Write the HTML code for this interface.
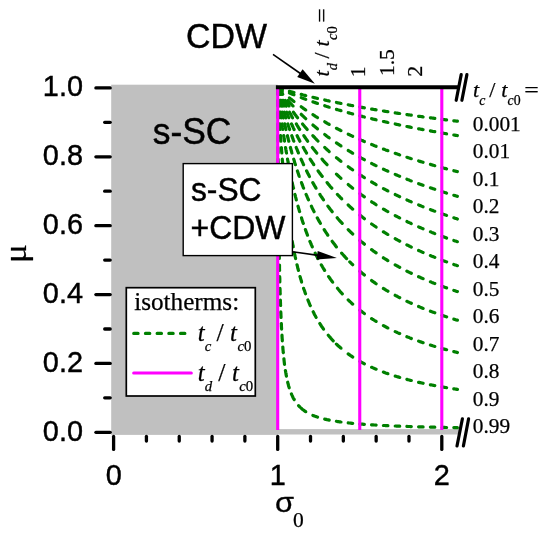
<!DOCTYPE html>
<html><head><meta charset="utf-8"><title>Phase diagram</title>
<style>html,body{margin:0;padding:0;background:#fff}svg{display:block}.sa{font-family:"Liberation Sans", sans-serif;fill:#000}.se{font-family:"Liberation Serif", serif;fill:#000;stroke:#000;stroke-width:0.25px}.it{font-style:italic}</style>
</head><body>
<svg width="550" height="537" viewBox="0 0 550 537">
<rect width="550" height="537" fill="#fff"/>
<rect x="111.2" y="84.7" width="166.50" height="350.20" fill="#c0c0c0"/>
<rect x="276.70" y="429.1" width="182.50" height="5.4" fill="#c0c0c0"/>
<path d="M277.7 87.9 L277.7 87.9 L277.8 87.9 L278.0 88.0 L278.6 88.2 L279.9 88.6 L282.3 89.3M289.4 91.3 L290.1 91.5 L290.8 91.7 L291.6 91.9 L292.3 92.1 L293.1 92.3 L294.0 92.6 L294.0 92.6M301.2 94.4 L301.9 94.6 L302.6 94.8 L303.4 95.0 L304.1 95.2 L304.9 95.4 L305.7 95.6 L305.8 95.6M312.9 97.3 L313.7 97.5 L314.4 97.7 L315.1 97.8 L315.9 98.0 L316.6 98.2 L317.4 98.4 L317.5 98.4M324.7 100.0 L325.4 100.2 L326.2 100.3 L326.9 100.5 L327.7 100.7 L328.5 100.8 L329.2 101.0M336.4 102.5 L337.2 102.7 L337.9 102.8 L338.7 103.0 L339.4 103.1 L340.2 103.3 L340.9 103.4 L341.0 103.4M348.2 104.8 L348.9 105.0 L349.6 105.1 L350.3 105.2 L351.1 105.4 L351.8 105.5 L352.5 105.7 L352.7 105.7M359.9 107.0 L360.7 107.2 L361.4 107.3 L362.2 107.4 L362.9 107.6 L363.7 107.7 L364.4 107.8M371.6 109.1 L372.4 109.2 L373.1 109.3 L373.9 109.5 L374.6 109.6 L375.4 109.7 L376.1 109.8M383.4 111.0 L384.2 111.1 L384.9 111.3 L385.6 111.4 L386.4 111.5 L387.1 111.6 L387.8 111.7 L387.9 111.7M395.2 112.9 L395.9 113.0 L396.6 113.1 L397.3 113.2 L398.0 113.3 L398.7 113.4 L399.4 113.5 L399.7 113.5M406.9 114.6 L407.6 114.7 L408.4 114.8 L409.2 114.9 L409.9 115.0 L410.7 115.1 L411.3 115.2M418.6 116.3 L419.3 116.4 L420.0 116.4 L420.7 116.5 L421.4 116.6 L422.1 116.7 L422.8 116.8 L423.1 116.9M430.4 117.8 L431.2 117.9 L431.9 118.0 L432.7 118.1 L433.4 118.2 L434.2 118.3 L434.8 118.4M442.1 119.3 L442.8 119.4 L443.4 119.5 L444.1 119.6 L444.8 119.7 L445.5 119.8 L446.2 119.8 L446.6 119.9M453.8 120.8 L454.4 120.9 L455.0 120.9 L455.6 121.0 L456.2 121.1 L456.8 121.1 L457.4 121.2" fill="none" stroke="#008000" stroke-width="3.2" stroke-linecap="round" stroke-linejoin="round"/>
<path d="M277.7 87.9 L277.7 87.9 L277.8 87.9 L278.0 88.0 L278.6 88.3 L279.9 88.9 L282.3 90.0M289.4 93.0 L290.1 93.3 L290.8 93.6 L291.6 93.9 L292.3 94.2 L293.1 94.5 L294.0 94.8 L294.0 94.8M301.2 97.6 L301.9 97.9 L302.6 98.2 L303.4 98.4 L304.1 98.7 L304.9 99.0 L305.7 99.3 L305.8 99.3M312.9 101.9 L313.7 102.1 L314.4 102.4 L315.1 102.6 L315.9 102.9 L316.6 103.1 L317.4 103.4 L317.5 103.4M324.7 105.7 L325.4 106.0 L326.2 106.2 L326.9 106.5 L327.7 106.7 L328.5 107.0 L329.2 107.2M336.4 109.4 L337.2 109.6 L337.9 109.8 L338.7 110.0 L339.4 110.2 L340.2 110.4 L340.9 110.7 L341.0 110.7M348.2 112.7 L348.9 112.9 L349.6 113.1 L350.3 113.3 L351.1 113.5 L351.8 113.7 L352.5 113.9 L352.7 113.9M359.9 115.8 L360.7 116.0 L361.4 116.2 L362.2 116.4 L362.9 116.6 L363.7 116.8 L364.4 117.0M371.6 118.7 L372.4 118.9 L373.1 119.1 L373.9 119.3 L374.6 119.4 L375.4 119.6 L376.1 119.8M383.4 121.5 L384.2 121.6 L384.9 121.8 L385.6 122.0 L386.4 122.1 L387.1 122.3 L387.8 122.5 L387.9 122.5M395.2 124.0 L395.9 124.2 L396.6 124.3 L397.3 124.5 L398.0 124.6 L398.7 124.8 L399.4 124.9 L399.7 125.0M406.9 126.5 L407.6 126.6 L408.4 126.8 L409.2 126.9 L409.9 127.1 L410.7 127.2 L411.3 127.4M418.6 128.8 L419.3 128.9 L420.0 129.0 L420.7 129.2 L421.4 129.3 L422.1 129.4 L422.8 129.6 L423.1 129.6M430.4 130.9 L431.2 131.1 L431.9 131.2 L432.7 131.4 L433.4 131.5 L434.2 131.6 L434.8 131.7M442.1 133.0 L442.8 133.1 L443.4 133.2 L444.1 133.4 L444.8 133.5 L445.5 133.6 L446.2 133.7 L446.6 133.8M453.8 135.0 L454.4 135.1 L455.0 135.2 L455.6 135.3 L456.2 135.4 L456.8 135.5 L457.4 135.6" fill="none" stroke="#008000" stroke-width="3.2" stroke-linecap="round" stroke-linejoin="round"/>
<path d="M277.7 87.9 L277.7 87.9 L277.8 88.0 L278.0 88.2 L278.6 88.7 L279.9 89.9 L282.3 92.0M289.4 97.9 L290.1 98.5 L290.8 99.0 L291.6 99.6 L292.3 100.2 L293.1 100.9 L294.0 101.5 L294.0 101.5M301.2 106.8 L301.9 107.3 L302.6 107.8 L303.4 108.4 L304.1 108.9 L304.9 109.4 L305.7 110.0 L305.8 110.0M312.9 114.7 L313.7 115.2 L314.4 115.6 L315.1 116.1 L315.9 116.6 L316.6 117.0 L317.4 117.5 L317.5 117.6M324.7 121.8 L325.4 122.3 L326.2 122.7 L326.9 123.1 L327.7 123.6 L328.5 124.0 L329.2 124.4M336.4 128.3 L337.2 128.7 L337.9 129.1 L338.7 129.4 L339.4 129.8 L340.2 130.2 L340.9 130.6 L341.0 130.6M348.2 134.2 L348.9 134.5 L349.6 134.8 L350.3 135.2 L351.1 135.5 L351.8 135.9 L352.5 136.2 L352.7 136.3M359.9 139.5 L360.7 139.9 L361.4 140.2 L362.2 140.5 L362.9 140.8 L363.7 141.2 L364.4 141.5M371.6 144.5 L372.4 144.8 L373.1 145.1 L373.9 145.4 L374.6 145.7 L375.4 146.0 L376.1 146.3M383.4 149.1 L384.2 149.3 L384.9 149.6 L385.6 149.9 L386.4 150.2 L387.1 150.4 L387.8 150.7 L387.9 150.7M395.2 153.3 L395.9 153.6 L396.6 153.8 L397.3 154.0 L398.0 154.3 L398.7 154.5 L399.4 154.8 L399.7 154.9M406.9 157.3 L407.6 157.5 L408.4 157.8 L409.2 158.0 L409.9 158.2 L410.7 158.5 L411.3 158.7M418.6 160.9 L419.3 161.2 L420.0 161.4 L420.7 161.6 L421.4 161.8 L422.1 162.0 L422.8 162.2 L423.1 162.3M430.4 164.4 L431.2 164.6 L431.9 164.9 L432.7 165.1 L433.4 165.3 L434.2 165.5 L434.8 165.7M442.1 167.7 L442.8 167.8 L443.4 168.0 L444.1 168.2 L444.8 168.4 L445.5 168.6 L446.2 168.7 L446.6 168.9M453.8 170.7 L454.4 170.9 L455.0 171.0 L455.6 171.2 L456.2 171.3 L456.8 171.5 L457.4 171.6" fill="none" stroke="#008000" stroke-width="3.2" stroke-linecap="round" stroke-linejoin="round"/>
<path d="M277.7 87.9 L277.7 87.9M278.3 88.7 L278.7 89.1 L279.1 89.7 L279.7 90.5 L280.5 91.5 L281.5 92.8 L282.8 94.3M288.0 100.5 L288.7 101.3 L289.5 102.2 L290.3 103.1 L291.2 104.0 L292.1 105.0 L293.0 106.0 L293.1 106.0M301.2 114.3 L301.9 115.0 L302.6 115.7 L303.4 116.4 L304.1 117.1 L304.9 117.9 L305.7 118.6 L305.8 118.7M312.9 125.0 L313.7 125.7 L314.4 126.3 L315.1 126.9 L315.9 127.5 L316.6 128.1 L317.4 128.7 L317.5 128.8M324.7 134.5 L325.4 135.0 L326.2 135.6 L326.9 136.2 L327.7 136.8 L328.5 137.3 L329.2 137.9M336.4 142.9 L337.2 143.4 L337.9 143.9 L338.7 144.4 L339.4 144.9 L340.2 145.4 L340.9 145.9 L341.0 145.9M348.2 150.5 L348.9 150.9 L349.6 151.3 L350.3 151.8 L351.1 152.2 L351.8 152.6 L352.5 153.1 L352.7 153.2M359.9 157.3 L360.7 157.7 L361.4 158.1 L362.2 158.5 L362.9 158.9 L363.7 159.3 L364.4 159.7M371.6 163.5 L372.4 163.9 L373.1 164.2 L373.9 164.6 L374.6 165.0 L375.4 165.4 L376.1 165.7M383.4 169.2 L384.2 169.5 L384.9 169.9 L385.6 170.2 L386.4 170.5 L387.1 170.9 L387.8 171.2 L387.9 171.2M395.2 174.4 L395.9 174.7 L396.6 175.0 L397.3 175.3 L398.0 175.6 L398.7 175.9 L399.4 176.2 L399.7 176.3M406.9 179.2 L407.6 179.5 L408.4 179.8 L409.2 180.1 L409.9 180.4 L410.7 180.7 L411.3 180.9M418.6 183.7 L419.3 183.9 L420.0 184.2 L420.7 184.4 L421.4 184.7 L422.1 184.9 L422.8 185.2 L423.1 185.3M430.4 187.8 L431.2 188.1 L431.9 188.3 L432.7 188.6 L433.4 188.8 L434.2 189.1 L434.8 189.3M442.1 191.7 L442.8 191.9 L443.4 192.1 L444.1 192.3 L444.8 192.5 L445.5 192.7 L446.2 192.9 L446.6 193.1M453.8 195.3 L454.4 195.5 L455.0 195.6 L455.6 195.8 L456.2 196.0 L456.8 196.2 L457.4 196.3" fill="none" stroke="#008000" stroke-width="3.2" stroke-linecap="round" stroke-linejoin="round"/>
<path d="M278.2 88.7 L278.4 89.1 L278.8 89.7 L279.2 90.5 L279.8 91.5 L280.5 92.7 L281.5 94.2 L281.5 94.3M285.3 100.5 L285.9 101.3 L286.5 102.2 L287.1 103.1 L287.7 104.0 L288.3 105.0 L289.0 106.0 L289.1 106.0M293.4 112.2 L294.0 113.1 L294.7 114.0 L295.4 114.9 L296.1 115.8 L296.8 116.8 L297.6 117.8M302.5 123.9 L303.2 124.8 L304.0 125.7 L304.8 126.7 L305.6 127.6 L306.4 128.5 L307.2 129.5 L307.2 129.5M312.8 135.7 L313.6 136.5 L314.5 137.4 L315.3 138.3 L316.2 139.2 L317.0 140.1 L317.9 140.9 L318.0 141.1M324.7 147.4 L325.4 148.1 L326.2 148.8 L326.9 149.5 L327.7 150.2 L328.5 150.9 L329.2 151.6M336.4 157.7 L337.2 158.3 L337.9 158.9 L338.7 159.5 L339.4 160.1 L340.2 160.7 L340.9 161.3 L341.0 161.3M348.2 166.7 L348.9 167.2 L349.6 167.7 L350.3 168.3 L351.1 168.8 L351.8 169.3 L352.5 169.8 L352.7 169.9M359.9 174.8 L360.7 175.3 L361.4 175.7 L362.2 176.2 L362.9 176.7 L363.7 177.2 L364.4 177.6M371.6 182.0 L372.4 182.4 L373.1 182.9 L373.9 183.3 L374.6 183.7 L375.4 184.2 L376.1 184.6M383.4 188.6 L384.2 189.0 L384.9 189.3 L385.6 189.7 L386.4 190.1 L387.1 190.5 L387.8 190.9 L387.9 190.9M395.2 194.5 L395.9 194.9 L396.6 195.2 L397.3 195.5 L398.0 195.9 L398.7 196.2 L399.4 196.5 L399.7 196.7M406.9 200.0 L407.6 200.3 L408.4 200.6 L409.2 201.0 L409.9 201.3 L410.7 201.6 L411.3 201.9M418.6 204.9 L419.3 205.2 L420.0 205.5 L420.7 205.8 L421.4 206.1 L422.1 206.4 L422.8 206.7 L423.1 206.8M430.4 209.6 L431.2 209.9 L431.9 210.2 L432.7 210.4 L433.4 210.7 L434.2 211.0 L434.8 211.2M442.1 213.8 L442.8 214.1 L443.4 214.3 L444.1 214.5 L444.8 214.8 L445.5 215.0 L446.2 215.2 L446.6 215.4M453.8 217.8 L454.4 218.0 L455.0 218.2 L455.6 218.4 L456.2 218.6 L456.8 218.8 L457.4 219.0" fill="none" stroke="#008000" stroke-width="3.2" stroke-linecap="round" stroke-linejoin="round"/>
<path d="M278.1 88.7 L278.2 89.1 L278.5 89.7 L278.8 90.5 L279.3 91.5 L279.9 92.7 L280.6 94.3 L280.6 94.3M283.5 100.5 L283.9 101.3 L284.3 102.1 L284.8 103.0 L285.2 104.0 L285.7 104.9 L286.2 105.9 L286.3 106.0M289.5 112.2 L290.0 113.1 L290.5 113.9 L291.0 114.8 L291.5 115.8 L292.0 116.7 L292.6 117.7 L292.6 117.8M296.3 123.9 L296.8 124.8 L297.4 125.8 L297.9 126.7 L298.5 127.6 L299.1 128.6 L299.7 129.5M303.8 135.7 L304.4 136.6 L305.1 137.5 L305.7 138.4 L306.4 139.4 L307.0 140.3 L307.7 141.2M312.3 147.4 L313.0 148.3 L313.7 149.2 L314.5 150.1 L315.2 151.1 L315.9 152.0 L316.7 152.9 L316.8 153.0M322.0 159.1 L322.8 160.1 L323.6 161.0 L324.4 161.9 L325.3 162.8 L326.1 163.7 L327.0 164.6 L327.1 164.7M336.4 174.1 L337.2 174.8 L337.9 175.5 L338.7 176.2 L339.4 176.9 L340.2 177.6 L340.9 178.3 L341.0 178.3M348.2 184.5 L348.9 185.1 L349.6 185.7 L350.3 186.3 L351.1 186.9 L351.8 187.5 L352.5 188.1 L352.7 188.2M359.9 193.7 L360.7 194.2 L361.4 194.8 L362.2 195.3 L362.9 195.8 L363.7 196.4 L364.4 196.9M371.6 201.8 L372.4 202.3 L373.1 202.7 L373.9 203.2 L374.6 203.7 L375.4 204.2 L376.1 204.7M383.4 209.1 L384.2 209.5 L384.9 209.9 L385.6 210.3 L386.4 210.8 L387.1 211.2 L387.8 211.6 L387.9 211.6M395.2 215.6 L395.9 216.0 L396.6 216.3 L397.3 216.7 L398.0 217.1 L398.7 217.4 L399.4 217.8 L399.7 217.9M406.9 221.5 L407.6 221.9 L408.4 222.2 L409.2 222.6 L409.9 222.9 L410.7 223.3 L411.3 223.6M418.6 226.9 L419.3 227.2 L420.0 227.5 L420.7 227.8 L421.4 228.1 L422.1 228.4 L422.8 228.7 L423.1 228.8M430.4 231.8 L431.2 232.1 L431.9 232.4 L432.7 232.7 L433.4 233.0 L434.2 233.3 L434.8 233.6M442.1 236.3 L442.8 236.6 L443.4 236.8 L444.1 237.1 L444.8 237.3 L445.5 237.6 L446.2 237.8 L446.6 238.0M453.8 240.5 L454.4 240.7 L455.0 240.9 L455.6 241.1 L456.2 241.3 L456.8 241.5 L457.4 241.7" fill="none" stroke="#008000" stroke-width="3.2" stroke-linecap="round" stroke-linejoin="round"/>
<path d="M278.0 88.7 L278.1 89.1 L278.3 89.7 L278.6 90.5 L278.9 91.5 L279.3 92.7 L279.9 94.3 L279.9 94.3M282.1 100.5 L282.4 101.3 L282.7 102.1 L283.0 103.0 L283.4 104.0 L283.7 104.9 L284.1 106.0 L284.1 106.0M286.6 112.2 L286.9 113.1 L287.3 114.0 L287.7 114.9 L288.1 115.8 L288.5 116.8 L288.9 117.7M291.5 123.9 L291.9 124.8 L292.4 125.8 L292.8 126.7 L293.2 127.6 L293.7 128.6 L294.1 129.5M297.1 135.7 L297.5 136.6 L298.0 137.5 L298.5 138.5 L299.0 139.4 L299.4 140.3 L299.9 141.2M303.3 147.4 L303.8 148.3 L304.3 149.2 L304.8 150.1 L305.3 151.0 L305.9 151.9 L306.4 152.9 L306.5 153.0M310.2 159.2 L310.8 160.1 L311.4 161.0 L312.0 161.9 L312.6 162.8 L313.2 163.7 L313.8 164.6 L313.8 164.7M318.1 170.9 L318.7 171.8 L319.4 172.7 L320.0 173.6 L320.7 174.4 L321.3 175.3 L322.0 176.2 L322.2 176.4M327.1 182.6 L327.8 183.5 L328.5 184.4 L329.3 185.3 L330.0 186.2 L330.8 187.1 L331.6 188.0 L331.8 188.2M337.4 194.4 L338.1 195.1 L338.8 195.8 L339.5 196.5 L340.2 197.3 L340.9 198.0 L341.6 198.7 L341.7 198.9M348.2 205.0 L348.9 205.7 L349.6 206.3 L350.3 207.0 L351.1 207.7 L351.8 208.3 L352.5 209.0 L352.7 209.1M359.9 215.2 L360.7 215.7 L361.4 216.3 L362.2 216.9 L362.9 217.5 L363.7 218.1 L364.4 218.7M371.6 224.0 L372.4 224.5 L373.1 225.0 L373.9 225.5 L374.6 226.0 L375.4 226.5 L376.1 227.1M383.4 231.8 L384.2 232.2 L384.9 232.7 L385.6 233.1 L386.4 233.6 L387.1 234.0 L387.8 234.5 L387.9 234.5M395.2 238.7 L395.9 239.1 L396.6 239.5 L397.3 239.9 L398.0 240.2 L398.7 240.6 L399.4 241.0 L399.7 241.2M406.9 244.9 L407.6 245.3 L408.4 245.6 L409.2 246.0 L409.9 246.4 L410.7 246.8 L411.3 247.1M418.6 250.5 L419.3 250.8 L420.0 251.1 L420.7 251.4 L421.4 251.7 L422.1 252.1 L422.8 252.4 L423.1 252.5M430.4 255.6 L431.2 255.9 L431.9 256.2 L432.7 256.5 L433.4 256.8 L434.2 257.1 L434.8 257.4M442.1 260.2 L442.8 260.5 L443.4 260.7 L444.1 261.0 L444.8 261.2 L445.5 261.5 L446.2 261.7 L446.6 261.9M453.8 264.5 L454.4 264.7 L455.0 264.9 L455.6 265.1 L456.2 265.3 L456.8 265.5 L457.4 265.7" fill="none" stroke="#008000" stroke-width="3.2" stroke-linecap="round" stroke-linejoin="round"/>
<path d="M277.9 88.7 L278.0 89.1 L278.1 89.7 L278.3 90.5 L278.6 91.5 L278.9 92.7 L279.3 94.3 L279.3 94.3M280.9 100.4 L281.1 101.3 L281.4 102.1 L281.6 103.0 L281.9 104.0 L282.1 105.0 L282.4 106.0 L282.4 106.0M284.2 112.2 L284.4 113.0 L284.7 113.9 L285.0 114.8 L285.2 115.7 L285.5 116.6 L285.8 117.6 L285.9 117.8M287.8 123.9 L288.1 124.8 L288.4 125.8 L288.7 126.7 L289.0 127.6 L289.3 128.6 L289.6 129.5M291.8 135.7 L292.1 136.6 L292.4 137.5 L292.8 138.4 L293.1 139.3 L293.4 140.3 L293.8 141.2 L293.8 141.2M296.2 147.4 L296.5 148.3 L296.9 149.2 L297.3 150.1 L297.6 151.0 L298.0 151.9 L298.4 152.8 L298.4 153.0M301.1 159.2 L301.5 160.0 L301.9 160.9 L302.3 161.8 L302.7 162.7 L303.1 163.6 L303.5 164.5 L303.6 164.7M306.6 170.9 L307.1 171.8 L307.5 172.8 L308.0 173.7 L308.5 174.6 L309.0 175.5 L309.4 176.5M312.8 182.6 L313.3 183.5 L313.8 184.4 L314.3 185.3 L314.8 186.2 L315.3 187.0 L315.9 187.9 L316.0 188.2M319.9 194.4 L320.4 195.3 L321.0 196.2 L321.6 197.0 L322.2 197.9 L322.8 198.8 L323.4 199.7 L323.5 199.9M327.9 206.1 L328.6 207.1 L329.3 208.0 L330.0 209.0 L330.8 209.9 L331.5 210.8 L332.2 211.7M337.2 217.8 L338.0 218.8 L338.8 219.7 L339.6 220.6 L340.4 221.5 L341.3 222.4 L342.1 223.3 L342.2 223.4M348.2 229.6 L348.9 230.3 L349.6 231.0 L350.3 231.8 L351.1 232.5 L351.8 233.2 L352.5 233.9 L352.7 234.0M359.9 240.5 L360.7 241.1 L361.4 241.7 L362.2 242.3 L362.9 242.9 L363.7 243.5 L364.4 244.2M371.6 249.7 L372.4 250.2 L373.1 250.8 L373.9 251.3 L374.6 251.9 L375.4 252.4 L376.1 252.9M383.4 257.8 L384.2 258.3 L384.9 258.7 L385.6 259.2 L386.4 259.6 L387.1 260.1 L387.8 260.6 L387.9 260.6M395.2 264.9 L395.9 265.3 L396.6 265.6 L397.3 266.0 L398.0 266.4 L398.7 266.8 L399.4 267.2 L399.7 267.4M406.9 271.1 L407.6 271.5 L408.4 271.9 L409.2 272.2 L409.9 272.6 L410.7 273.0 L411.3 273.3M418.6 276.7 L419.3 277.0 L420.0 277.3 L420.7 277.6 L421.4 278.0 L422.1 278.3 L422.8 278.6 L423.1 278.7M430.4 281.8 L431.2 282.1 L431.9 282.4 L432.7 282.7 L433.4 283.0 L434.2 283.3 L434.8 283.5M442.1 286.3 L442.8 286.5 L443.4 286.8 L444.1 287.0 L444.8 287.3 L445.5 287.5 L446.2 287.8 L446.6 287.9M453.8 290.4 L454.4 290.6 L455.0 290.8 L455.6 291.0 L456.2 291.2 L456.8 291.4 L457.4 291.6" fill="none" stroke="#008000" stroke-width="3.2" stroke-linecap="round" stroke-linejoin="round"/>
<path d="M277.8 88.7 L277.9 89.1 L278.0 89.7 L278.1 90.5 L278.3 91.5 L278.5 92.7 L278.8 94.3 L278.8 94.3M279.9 100.4 L280.1 101.3 L280.2 102.1 L280.4 103.1 L280.6 104.0 L280.8 105.0 L281.0 106.0M282.2 112.2 L282.4 113.1 L282.6 113.9 L282.7 114.8 L282.9 115.8 L283.1 116.7 L283.3 117.7 L283.4 117.8M284.7 123.9 L284.9 124.8 L285.1 125.8 L285.3 126.7 L285.5 127.6 L285.7 128.6 L285.9 129.5M287.4 135.7 L287.6 136.6 L287.8 137.5 L288.1 138.4 L288.3 139.3 L288.5 140.2 L288.8 141.2 L288.8 141.2M290.4 147.5 L290.6 148.3 L290.9 149.2 L291.1 150.1 L291.4 150.9 L291.6 151.8 L291.8 152.7 L291.9 153.0M293.7 159.2 L294.0 160.1 L294.3 161.0 L294.5 162.0 L294.8 162.9 L295.1 163.8 L295.4 164.7M297.4 170.9 L297.7 171.8 L298.0 172.7 L298.3 173.6 L298.6 174.5 L298.9 175.4 L299.2 176.4 L299.3 176.4M301.5 182.6 L301.8 183.6 L302.2 184.5 L302.5 185.4 L302.9 186.3 L303.2 187.3 L303.6 188.2M306.1 194.4 L306.5 195.3 L306.9 196.2 L307.3 197.2 L307.7 198.1 L308.1 199.0 L308.5 199.9M311.4 206.2 L311.8 207.1 L312.2 208.0 L312.7 209.0 L313.2 209.9 L313.6 210.8 L314.1 211.7M317.3 217.9 L317.8 218.8 L318.3 219.7 L318.8 220.6 L319.3 221.5 L319.9 222.4 L320.4 223.4 L320.4 223.4M324.2 229.6 L324.7 230.5 L325.3 231.4 L325.9 232.3 L326.5 233.2 L327.1 234.1 L327.7 235.0 L327.8 235.2M332.2 241.3 L332.9 242.3 L333.6 243.2 L334.3 244.1 L335.0 245.0 L335.7 246.0 L336.4 246.9M341.6 253.1 L342.4 254.0 L343.3 255.0 L344.1 255.9 L345.0 256.9 L345.8 257.8 L346.6 258.6M349.8 261.9 L350.3 262.4 L350.8 262.9 L351.3 263.4 L351.8 263.9 L352.3 264.3 L352.7 264.8M359.9 271.3 L360.7 271.9 L361.4 272.5 L362.2 273.2 L362.9 273.8 L363.7 274.4 L364.4 275.0M371.6 280.5 L372.4 281.1 L373.1 281.6 L373.9 282.1 L374.6 282.6 L375.4 283.2 L376.1 283.7M383.4 288.5 L384.2 288.9 L384.9 289.4 L385.6 289.8 L386.4 290.3 L387.1 290.7 L387.8 291.1 L387.9 291.2M395.2 295.3 L395.9 295.7 L396.6 296.0 L397.3 296.4 L398.0 296.8 L398.7 297.2 L399.4 297.5 L399.7 297.7M406.9 301.3 L407.6 301.6 L408.4 302.0 L409.2 302.3 L409.9 302.7 L410.7 303.0 L411.3 303.3M418.6 306.5 L419.3 306.8 L420.0 307.1 L420.7 307.4 L421.4 307.7 L422.1 308.0 L422.8 308.3 L423.1 308.4M430.4 311.2 L431.2 311.5 L431.9 311.8 L432.7 312.1 L433.4 312.3 L434.2 312.6 L434.8 312.8M442.1 315.4 L442.8 315.6 L443.4 315.8 L444.1 316.1 L444.8 316.3 L445.5 316.5 L446.2 316.7 L446.6 316.9M453.8 319.2 L454.4 319.3 L455.0 319.5 L455.6 319.7 L456.2 319.9 L456.8 320.1 L457.4 320.2" fill="none" stroke="#008000" stroke-width="3.2" stroke-linecap="round" stroke-linejoin="round"/>
<path d="M277.8 88.7 L277.8 89.1 L277.9 89.7 L278.0 90.5 L278.1 91.5 L278.2 92.7 L278.4 94.2 L278.4 94.3M279.1 100.5 L279.2 101.3 L279.3 102.2 L279.4 103.1 L279.5 104.0 L279.6 105.0 L279.7 106.0M280.5 112.2 L280.6 113.1 L280.7 113.9 L280.8 114.8 L281.0 115.8 L281.1 116.7 L281.2 117.6 L281.2 117.8M282.0 124.0 L282.2 124.8 L282.3 125.7 L282.4 126.6 L282.5 127.5 L282.7 128.4 L282.8 129.3 L282.8 129.5M283.7 135.7 L283.8 136.6 L284.0 137.5 L284.1 138.4 L284.3 139.3 L284.4 140.2 L284.5 141.2 L284.5 141.2M285.5 147.5 L285.7 148.4 L285.8 149.3 L286.0 150.2 L286.1 151.2 L286.3 152.1 L286.5 153.0M287.5 159.1 L287.7 160.1 L287.9 161.0 L288.0 161.9 L288.2 162.8 L288.4 163.7 L288.5 164.7M289.7 170.9 L289.9 171.8 L290.1 172.6 L290.3 173.5 L290.5 174.4 L290.6 175.3 L290.8 176.2 L290.9 176.4M292.2 182.6 L292.4 183.6 L292.6 184.5 L292.8 185.4 L293.0 186.3 L293.2 187.2 L293.4 188.1 L293.5 188.2M294.9 194.4 L295.2 195.3 L295.4 196.2 L295.6 197.1 L295.9 198.1 L296.1 199.0 L296.3 199.9M298.0 206.2 L298.3 207.1 L298.5 208.0 L298.8 208.9 L299.1 209.9 L299.3 210.8 L299.6 211.6M301.5 217.8 L301.7 218.8 L302.0 219.7 L302.3 220.6 L302.6 221.5 L302.9 222.4 L303.2 223.3 L303.3 223.4M305.4 229.6 L305.7 230.5 L306.1 231.4 L306.4 232.3 L306.7 233.2 L307.1 234.1 L307.4 235.0 L307.5 235.2M309.9 241.4 L310.3 242.3 L310.7 243.1 L311.0 244.0 L311.4 244.9 L311.8 245.7 L312.2 246.6 L312.3 246.9M315.2 253.1 L315.6 254.0 L316.1 254.9 L316.5 255.9 L317.0 256.8 L317.5 257.7 L317.9 258.6 L318.0 258.6M321.3 264.9 L321.9 265.8 L322.4 266.7 L323.0 267.7 L323.5 268.6 L324.1 269.5 L324.6 270.4M328.6 276.6 L329.3 277.5 L330.0 278.5 L330.6 279.4 L331.3 280.3 L332.0 281.3 L332.6 282.1M337.5 288.3 L338.3 289.3 L339.1 290.2 L339.9 291.2 L340.7 292.1 L341.5 293.0 L342.3 293.9M348.2 299.9 L348.9 300.6 L349.6 301.3 L350.3 301.9 L351.1 302.6 L351.8 303.3 L352.5 304.0 L352.7 304.1M359.9 310.2 L360.7 310.8 L361.4 311.3 L362.2 311.9 L362.9 312.5 L363.7 313.0 L364.4 313.6M371.6 318.6 L372.4 319.1 L373.1 319.5 L373.9 320.0 L374.6 320.5 L375.4 321.0 L376.1 321.4M383.4 325.6 L384.2 326.0 L384.9 326.4 L385.6 326.8 L386.4 327.2 L387.1 327.6 L387.8 328.0 L387.9 328.0M395.2 331.6 L395.9 331.9 L396.6 332.2 L397.3 332.6 L398.0 332.9 L398.7 333.2 L399.4 333.5 L399.7 333.6M406.9 336.7 L407.6 337.0 L408.4 337.3 L409.2 337.6 L409.9 337.9 L410.7 338.2 L411.3 338.5M418.6 341.1 L419.3 341.4 L420.0 341.6 L420.7 341.9 L421.4 342.1 L422.1 342.4 L422.8 342.6 L423.1 342.7M430.4 345.1 L431.2 345.3 L431.9 345.5 L432.7 345.8 L433.4 346.0 L434.2 346.2 L434.8 346.4M442.1 348.5 L442.8 348.7 L443.4 348.9 L444.1 349.1 L444.8 349.3 L445.5 349.4 L446.2 349.6 L446.6 349.7M453.8 351.6 L454.4 351.7 L455.0 351.9 L455.6 352.0 L456.2 352.2 L456.8 352.3 L457.4 352.5" fill="none" stroke="#008000" stroke-width="3.2" stroke-linecap="round" stroke-linejoin="round"/>
<path d="M277.7 88.7 L277.8 89.1 L277.8 89.7 L277.8 90.5 L277.9 91.5 L277.9 92.7 L278.0 94.3M278.4 100.5 L278.4 101.3 L278.4 102.1 L278.5 103.0 L278.5 103.9 L278.6 104.8 L278.7 105.8 L278.7 106.0M279.0 112.2 L279.1 113.1 L279.1 114.0 L279.2 114.9 L279.2 115.9 L279.3 116.8 L279.3 117.7M279.7 123.9 L279.8 124.8 L279.8 125.7 L279.9 126.6 L280.0 127.5 L280.0 128.4 L280.1 129.3 L280.1 129.5M280.5 135.7 L280.6 136.6 L280.6 137.4 L280.7 138.3 L280.8 139.2 L280.8 140.0 L280.9 140.9 L280.9 141.2M281.4 147.5 L281.4 148.3 L281.5 149.2 L281.6 150.1 L281.6 150.9 L281.7 151.8 L281.8 152.7 L281.8 153.0M282.3 159.2 L282.3 160.0 L282.4 160.9 L282.5 161.7 L282.6 162.6 L282.6 163.4 L282.7 164.3 L282.7 164.7M283.3 170.9 L283.4 171.8 L283.4 172.7 L283.5 173.6 L283.6 174.5 L283.7 175.4 L283.8 176.3 L283.8 176.5M284.4 182.6 L284.5 183.6 L284.6 184.5 L284.7 185.4 L284.8 186.3 L284.9 187.3 L285.0 188.2M285.6 194.4 L285.7 195.3 L285.8 196.1 L285.9 197.0 L286.0 197.8 L286.1 198.6 L286.2 199.5 L286.2 199.9M287.0 206.1 L287.1 207.0 L287.2 207.8 L287.3 208.6 L287.4 209.5 L287.5 210.3 L287.6 211.2 L287.7 211.6M288.5 217.9 L288.6 218.8 L288.8 219.6 L288.9 220.5 L289.0 221.3 L289.1 222.2 L289.2 223.0 L289.3 223.4M290.2 229.6 L290.4 230.5 L290.5 231.5 L290.7 232.4 L290.8 233.3 L291.0 234.3 L291.1 235.1M292.2 241.4 L292.4 242.3 L292.5 243.2 L292.7 244.1 L292.9 245.0 L293.0 245.9 L293.2 246.8M294.4 253.1 L294.6 254.0 L294.8 254.9 L295.0 255.8 L295.2 256.7 L295.4 257.5 L295.6 258.4 L295.6 258.6M297.0 264.8 L297.3 265.8 L297.5 266.7 L297.7 267.7 L297.9 268.6 L298.2 269.5 L298.4 270.4M300.0 276.6 L300.3 277.5 L300.6 278.4 L300.8 279.3 L301.1 280.1 L301.3 281.0 L301.6 281.9 L301.6 282.1M303.6 288.3 L303.9 289.3 L304.3 290.2 L304.6 291.1 L304.9 292.0 L305.2 292.9 L305.5 293.8M307.9 300.0 L308.3 301.0 L308.7 301.9 L309.1 302.8 L309.4 303.7 L309.8 304.6 L310.2 305.5 L310.3 305.6M313.2 311.8 L313.7 312.7 L314.1 313.7 L314.6 314.6 L315.1 315.5 L315.6 316.3 L316.0 317.2 L316.1 317.3M319.8 323.5 L320.4 324.5 L321.0 325.4 L321.6 326.4 L322.3 327.3 L322.9 328.2 L323.5 329.1M328.3 335.3 L329.1 336.2 L329.9 337.1 L330.7 338.1 L331.5 339.0 L332.3 339.9 L333.2 340.8 L333.2 340.8M336.4 344.1 L337.2 344.8 L337.9 345.5 L338.7 346.2 L339.4 346.8 L340.2 347.5 L340.9 348.2 L341.0 348.2M348.2 353.9 L348.9 354.4 L349.6 354.9 L350.3 355.4 L351.1 355.9 L351.8 356.4 L352.5 356.9 L352.7 357.0M359.9 361.4 L360.7 361.8 L361.4 362.2 L362.2 362.6 L362.9 363.0 L363.7 363.4 L364.4 363.8M371.6 367.3 L372.4 367.6 L373.1 367.9 L373.9 368.3 L374.6 368.6 L375.4 368.9 L376.1 369.2M383.4 372.1 L384.2 372.4 L384.9 372.6 L385.6 372.9 L386.4 373.2 L387.1 373.4 L387.8 373.7 L387.9 373.7M395.2 376.1 L395.9 376.3 L396.6 376.5 L397.3 376.7 L398.0 376.9 L398.7 377.1 L399.4 377.3 L399.7 377.4M406.9 379.4 L407.6 379.6 L408.4 379.8 L409.2 380.0 L409.9 380.2 L410.7 380.4 L411.3 380.5M418.6 382.3 L419.3 382.4 L420.0 382.6 L420.7 382.7 L421.4 382.9 L422.1 383.0 L422.8 383.2 L423.1 383.3M430.4 384.8 L431.2 384.9 L431.9 385.0 L432.7 385.2 L433.4 385.3 L434.2 385.5 L434.8 385.6M442.1 386.9 L442.8 387.0 L443.4 387.1 L444.1 387.3 L444.8 387.4 L445.5 387.5 L446.2 387.6 L446.6 387.7M453.8 388.8 L454.4 388.9 L455.0 389.0 L455.6 389.1 L456.2 389.2 L456.8 389.3 L457.4 389.4" fill="none" stroke="#008000" stroke-width="3.2" stroke-linecap="round" stroke-linejoin="round"/>
<path d="M277.7 88.7 L277.7 89.1 L277.7 89.7 L277.7 90.5 L277.7 91.4 L277.7 92.6 L277.7 94.1 L277.7 94.3M277.8 100.4 L277.8 101.2 L277.8 102.1 L277.8 102.9 L277.8 103.8 L277.8 104.7 L277.8 105.7 L277.8 106.0M277.8 112.2 L277.8 113.1 L277.8 113.9 L277.8 114.8 L277.8 115.7 L277.9 116.6 L277.9 117.6 L277.9 117.8M277.9 123.9 L277.9 124.8 L277.9 125.6 L277.9 126.5 L277.9 127.4 L277.9 128.2 L277.9 129.1 L277.9 129.4M278.0 135.7 L278.0 136.6 L278.0 137.4 L278.0 138.3 L278.0 139.1 L278.0 140.0 L278.0 140.9 L278.0 141.2M278.0 147.4 L278.1 148.2 L278.1 149.0 L278.1 149.8 L278.1 150.6 L278.1 151.4 L278.1 152.2 L278.1 152.9M278.1 159.2 L278.1 160.1 L278.1 160.9 L278.2 161.8 L278.2 162.6 L278.2 163.5 L278.2 164.4 L278.2 164.7M278.2 171.0 L278.2 171.9 L278.2 172.8 L278.2 173.7 L278.3 174.6 L278.3 175.5 L278.3 176.4M278.3 182.8 L278.3 183.5 L278.3 184.3 L278.3 185.0 L278.4 185.8 L278.4 186.6 L278.4 187.3 L278.4 188.1M278.4 194.4 L278.4 195.2 L278.5 196.0 L278.5 196.7 L278.5 197.5 L278.5 198.3 L278.5 199.1 L278.5 199.8M278.6 206.3 L278.6 207.1 L278.6 207.9 L278.6 208.6 L278.6 209.4 L278.6 210.2 L278.6 211.0 L278.6 211.6M278.7 217.9 L278.7 218.7 L278.7 219.5 L278.7 220.3 L278.7 221.0 L278.8 221.8 L278.8 222.6 L278.8 223.4M278.9 229.7 L278.9 230.5 L278.9 231.2 L278.9 232.0 L278.9 232.8 L278.9 233.6 L278.9 234.4 L278.9 235.1M279.0 241.3 L279.0 242.3 L279.1 243.2 L279.1 244.2 L279.1 245.2 L279.1 246.1 L279.1 246.9M279.2 253.1 L279.2 254.1 L279.3 255.0 L279.3 255.9 L279.3 256.9 L279.3 257.8 L279.3 258.5M279.5 265.0 L279.5 265.9 L279.5 266.8 L279.5 267.7 L279.5 268.6 L279.5 269.5 L279.6 270.3M279.7 276.7 L279.7 277.5 L279.8 278.4 L279.8 279.3 L279.8 280.1 L279.8 281.0 L279.8 281.8 L279.8 282.0M280.0 288.4 L280.0 289.2 L280.1 290.0 L280.1 290.8 L280.1 291.6 L280.1 292.4 L280.2 293.2 L280.2 293.9M280.4 300.2 L280.4 301.1 L280.4 302.0 L280.5 302.9 L280.5 303.8 L280.5 304.7 L280.6 305.5M280.8 311.9 L280.8 312.8 L280.9 313.6 L280.9 314.4 L280.9 315.3 L281.0 316.1 L281.0 316.9 L281.0 317.4M281.3 323.5 L281.4 324.4 L281.4 325.3 L281.4 326.2 L281.5 327.1 L281.5 328.0 L281.6 328.9 L281.6 329.1M282.0 335.2 L282.0 336.2 L282.1 337.1 L282.1 338.0 L282.2 338.9 L282.3 339.8 L282.3 340.7 L282.3 340.8M282.8 347.0 L282.9 347.9 L282.9 348.8 L283.0 349.7 L283.1 350.6 L283.2 351.5 L283.2 352.4 L283.3 352.5M283.9 358.8 L284.0 359.7 L284.1 360.7 L284.2 361.6 L284.3 362.5 L284.4 363.4 L284.5 364.3M285.4 370.5 L285.6 371.4 L285.7 372.3 L285.9 373.2 L286.0 374.1 L286.2 375.0 L286.3 375.9 L286.4 376.0M287.7 382.2 L287.9 383.2 L288.2 384.1 L288.4 385.0 L288.6 385.9 L288.9 386.8 L289.2 387.7 L289.2 387.8M291.4 393.9 L291.8 394.9 L292.3 395.9 L292.7 396.8 L293.1 397.7 L293.6 398.6 L294.1 399.4 L294.2 399.5M298.6 405.7 L298.8 405.9 L299.0 406.1 L299.2 406.3 L299.4 406.5 L299.6 406.7 L299.8 406.9M301.2 408.2 L301.9 408.9 L302.6 409.5 L303.4 410.0 L304.1 410.6 L304.9 411.1 L305.7 411.7 L305.8 411.7M312.9 415.4 L313.7 415.7 L314.4 416.0 L315.1 416.2 L315.9 416.5 L316.6 416.8 L317.4 417.0 L317.5 417.1M324.7 419.1 L325.4 419.3 L326.2 419.4 L326.9 419.6 L327.7 419.8 L328.5 419.9 L329.2 420.1M336.4 421.3 L337.2 421.5 L337.9 421.6 L338.7 421.7 L339.4 421.8 L340.2 421.9 L340.9 422.0 L341.0 422.0M348.2 422.9 L348.9 423.0 L349.6 423.0 L350.3 423.1 L351.1 423.2 L351.8 423.3 L352.5 423.3 L352.7 423.3M359.9 424.0 L360.7 424.0 L361.4 424.1 L362.2 424.2 L362.9 424.2 L363.7 424.3 L364.4 424.3M371.6 424.8 L372.4 424.9 L373.1 424.9 L373.9 425.0 L374.6 425.0 L375.4 425.0 L376.1 425.1M383.4 425.5 L384.2 425.5 L384.9 425.5 L385.6 425.6 L386.4 425.6 L387.1 425.7 L387.8 425.7 L387.9 425.7M395.2 426.0 L395.9 426.0 L396.6 426.1 L397.3 426.1 L398.0 426.1 L398.7 426.1 L399.4 426.2 L399.7 426.2M406.9 426.4 L407.6 426.5 L408.4 426.5 L409.2 426.5 L409.9 426.5 L410.7 426.6 L411.3 426.6M418.6 426.8 L419.3 426.8 L420.0 426.8 L420.7 426.9 L421.4 426.9 L422.1 426.9 L422.8 426.9 L423.1 426.9M430.4 427.1 L431.2 427.1 L431.9 427.2 L432.7 427.2 L433.4 427.2 L434.2 427.2 L434.8 427.2M442.1 427.4 L442.8 427.4 L443.4 427.4 L444.1 427.4 L444.8 427.4 L445.5 427.5 L446.2 427.5 L446.6 427.5M453.8 427.6 L454.4 427.6 L455.0 427.6 L455.6 427.7 L456.2 427.7 L456.8 427.7 L457.4 427.7" fill="none" stroke="#008000" stroke-width="3.2" stroke-linecap="round" stroke-linejoin="round"/>
<line x1="277.70" y1="87.90" x2="277.70" y2="430.10" stroke="#ff00ff" stroke-width="3.1"/>
<line x1="359.75" y1="87.90" x2="359.75" y2="430.10" stroke="#ff00ff" stroke-width="3.1"/>
<line x1="441.80" y1="87.90" x2="441.80" y2="430.10" stroke="#ff00ff" stroke-width="3.1"/>
<line x1="275.90" y1="87.20" x2="458.71" y2="87.20" stroke="#000" stroke-width="4" stroke-linecap="butt"/>
<line x1="456.20" y1="100.30" x2="461.20" y2="74.60" stroke="#000" stroke-width="3.2" stroke-linecap="round"/>
<line x1="461.90" y1="100.30" x2="466.90" y2="74.60" stroke="#000" stroke-width="3.2" stroke-linecap="round"/>
<line x1="457.00" y1="446.00" x2="462.40" y2="418.80" stroke="#000" stroke-width="3.2" stroke-linecap="round"/>
<line x1="463.40" y1="446.00" x2="468.60" y2="418.80" stroke="#000" stroke-width="3.2" stroke-linecap="round"/>
<line x1="95.9" y1="432.30" x2="110.2" y2="432.30" stroke="#000" stroke-width="3.3" stroke-linecap="round"/>
<line x1="104.7" y1="397.86" x2="110.2" y2="397.86" stroke="#000" stroke-width="3.3" stroke-linecap="round"/>
<line x1="95.9" y1="363.42" x2="110.2" y2="363.42" stroke="#000" stroke-width="3.3" stroke-linecap="round"/>
<line x1="104.7" y1="328.98" x2="110.2" y2="328.98" stroke="#000" stroke-width="3.3" stroke-linecap="round"/>
<line x1="95.9" y1="294.54" x2="110.2" y2="294.54" stroke="#000" stroke-width="3.3" stroke-linecap="round"/>
<line x1="104.7" y1="260.10" x2="110.2" y2="260.10" stroke="#000" stroke-width="3.3" stroke-linecap="round"/>
<line x1="95.9" y1="225.66" x2="110.2" y2="225.66" stroke="#000" stroke-width="3.3" stroke-linecap="round"/>
<line x1="104.7" y1="191.22" x2="110.2" y2="191.22" stroke="#000" stroke-width="3.3" stroke-linecap="round"/>
<line x1="95.9" y1="156.78" x2="110.2" y2="156.78" stroke="#000" stroke-width="3.3" stroke-linecap="round"/>
<line x1="104.7" y1="122.34" x2="110.2" y2="122.34" stroke="#000" stroke-width="3.3" stroke-linecap="round"/>
<line x1="95.9" y1="87.90" x2="110.2" y2="87.90" stroke="#000" stroke-width="3.3" stroke-linecap="round"/>
<line x1="113.60" y1="436.4" x2="113.60" y2="449.4" stroke="#000" stroke-width="3.3" stroke-linecap="round"/>
<line x1="146.42" y1="436.4" x2="146.42" y2="441.1" stroke="#000" stroke-width="3.3" stroke-linecap="round"/>
<line x1="179.24" y1="436.4" x2="179.24" y2="441.1" stroke="#000" stroke-width="3.3" stroke-linecap="round"/>
<line x1="212.06" y1="436.4" x2="212.06" y2="441.1" stroke="#000" stroke-width="3.3" stroke-linecap="round"/>
<line x1="244.88" y1="436.4" x2="244.88" y2="441.1" stroke="#000" stroke-width="3.3" stroke-linecap="round"/>
<line x1="277.70" y1="436.4" x2="277.70" y2="449.4" stroke="#000" stroke-width="3.3" stroke-linecap="round"/>
<line x1="310.52" y1="436.4" x2="310.52" y2="441.1" stroke="#000" stroke-width="3.3" stroke-linecap="round"/>
<line x1="343.34" y1="436.4" x2="343.34" y2="441.1" stroke="#000" stroke-width="3.3" stroke-linecap="round"/>
<line x1="376.16" y1="436.4" x2="376.16" y2="441.1" stroke="#000" stroke-width="3.3" stroke-linecap="round"/>
<line x1="408.98" y1="436.4" x2="408.98" y2="441.1" stroke="#000" stroke-width="3.3" stroke-linecap="round"/>
<line x1="441.80" y1="436.4" x2="441.80" y2="449.4" stroke="#000" stroke-width="3.3" stroke-linecap="round"/>
<text class="sa" transform="translate(83.00,440.80) scale(0.962,1)" font-size="30.01" text-anchor="end" stroke="#000" stroke-width="0.45">0.0</text>
<text class="sa" transform="translate(83.00,371.92) scale(0.962,1)" font-size="30.01" text-anchor="end" stroke="#000" stroke-width="0.45">0.2</text>
<text class="sa" transform="translate(83.00,303.04) scale(0.962,1)" font-size="30.01" text-anchor="end" stroke="#000" stroke-width="0.45">0.4</text>
<text class="sa" transform="translate(83.00,234.16) scale(0.962,1)" font-size="30.01" text-anchor="end" stroke="#000" stroke-width="0.45">0.6</text>
<text class="sa" transform="translate(83.00,165.28) scale(0.962,1)" font-size="30.01" text-anchor="end" stroke="#000" stroke-width="0.45">0.8</text>
<text class="sa" transform="translate(83.00,96.40) scale(0.962,1)" font-size="30.01" text-anchor="end" stroke="#000" stroke-width="0.45">1.0</text>
<text class="sa" transform="translate(113.70,485.20) scale(0.962,1)" font-size="30.01" text-anchor="middle" stroke="#000" stroke-width="0.45">0</text>
<text class="sa" transform="translate(277.80,485.20) scale(0.962,1)" font-size="30.01" text-anchor="middle" stroke="#000" stroke-width="0.45">1</text>
<text class="sa" transform="translate(441.90,485.20) scale(0.962,1)" font-size="30.01" text-anchor="middle" stroke="#000" stroke-width="0.45">2</text>
<text class="se" transform="translate(25.5,262.9) rotate(-90) scale(1.09,0.97)" font-size="32" stroke="#000" stroke-width="0.3">μ</text>
<text class="sa" transform="translate(274.9,512.4) scale(1.13,1)" font-size="27.3" stroke="#000" stroke-width="0.3">σ</text>
<text class="se" x="293.0" y="527" font-size="21.5">0</text>
<text class="sa" transform="translate(186.10,48.00) scale(0.962,1)" font-size="35.29" text-anchor="start" stroke="#000" stroke-width="0.45">CDW</text>
<line x1="273.00" y1="54.30" x2="300.74" y2="73.76" stroke="#000" stroke-width="1.6"/>
<polygon points="314.90,83.70 297.22,77.04 302.62,69.34" fill="#000"/>
<text class="sa" transform="translate(152.70,144.40) scale(0.962,1)" font-size="36.85" text-anchor="start" stroke="#000" stroke-width="0.45">s-SC</text>
<rect x="183.2" y="163.6" width="109.2" height="92" fill="#fff" stroke="#000" stroke-width="1.4"/>
<text class="sa" transform="translate(191.00,201.40) scale(0.962,1)" font-size="33.02" text-anchor="start" stroke="#000" stroke-width="0.45">s-SC</text>
<text class="sa" transform="translate(190.50,239.30) scale(0.962,1)" font-size="33.22" text-anchor="start" stroke="#000" stroke-width="0.45">+CDW</text>
<line x1="292.40" y1="251.70" x2="318.09" y2="255.34" stroke="#000" stroke-width="1.6"/>
<polygon points="336.90,258.00 316.49,259.45 317.70,250.94" fill="#000"/>
<rect x="126.3" y="287.7" width="129.0" height="108.3" fill="#fff" stroke="#000" stroke-width="1.7"/>
<text class="se" x="134.2" y="309.7" font-size="25.2">isotherms:</text>
<line x1="133.75" y1="333.4" x2="185" y2="333.4" stroke="#008000" stroke-width="3.2" stroke-linecap="round" stroke-dasharray="4.3 7.4"/>
<line x1="133.7" y1="373" x2="191.3" y2="373" stroke="#ff00ff" stroke-width="3.1" stroke-linecap="round"/>
<text class="se it" x="197.80" y="341.20" font-size="24.8">t</text>
<text class="se it" x="204.80" y="351.20" font-size="14.8">c</text>
<text class="se" x="216.40" y="341.20" font-size="25.8">/</text>
<text class="se it" x="230.10" y="341.20" font-size="24.8">t</text>
<text class="se" x="237.40" y="351.20" font-size="14.8"><tspan class="it">c</tspan>0</text>
<text class="se it" x="197.80" y="381.00" font-size="24.8">t</text>
<text class="se it" x="204.80" y="391.00" font-size="14.8">d</text>
<text class="se" x="218.20" y="381.00" font-size="25.8">/</text>
<text class="se it" x="231.90" y="381.00" font-size="24.8">t</text>
<text class="se" x="239.20" y="391.00" font-size="14.8"><tspan class="it">c</tspan>0</text>
<text class="se it" x="473.00" y="96.80" font-size="22.0">t</text>
<text class="se it" x="479.20" y="104.60" font-size="13.8">c</text>
<text class="se" x="489.30" y="96.80" font-size="22.0">/</text>
<text class="se it" x="501.30" y="96.80" font-size="22.0">t</text>
<text class="se" x="507.60" y="104.60" font-size="13.8"><tspan class="it">c</tspan>0</text>
<text class="se" transform="translate(524.30,96.80) scale(1.2,1)" font-size="21.5">=</text>
<text class="se" x="472.8" y="130.90" font-size="21.3">0.001</text>
<text class="se" x="472.8" y="158.36" font-size="21.3">0.01</text>
<text class="se" x="472.8" y="185.82" font-size="21.3">0.1</text>
<text class="se" x="472.8" y="213.28" font-size="21.3">0.2</text>
<text class="se" x="472.8" y="240.74" font-size="21.3">0.3</text>
<text class="se" x="472.8" y="268.20" font-size="21.3">0.4</text>
<text class="se" x="472.8" y="295.66" font-size="21.3">0.5</text>
<text class="se" x="472.8" y="323.12" font-size="21.3">0.6</text>
<text class="se" x="472.8" y="350.58" font-size="21.3">0.7</text>
<text class="se" x="472.8" y="378.04" font-size="21.3">0.8</text>
<text class="se" x="472.8" y="405.50" font-size="21.3">0.9</text>
<text class="se" x="472.8" y="432.96" font-size="21.3">0.99</text>
<g transform="translate(329.0,76.5) rotate(-90)">
<text class="se it" x="0.00" y="0.00" font-size="22.0">t</text>
<text class="se it" x="6.20" y="7.80" font-size="14.6">d</text>
<text class="se" x="17.90" y="0.00" font-size="22.0">/</text>
<text class="se it" x="30.10" y="0.00" font-size="22.0">t</text>
<text class="se" x="36.50" y="7.80" font-size="14.6"><tspan class="it">c</tspan>0</text>
<text class="se" transform="translate(53.70,0.00) scale(1.2,1)" font-size="21.5">=</text>
</g>
<text class="se" transform="translate(365,77.2) rotate(-90)" font-size="21.5">1</text>
<text class="se" transform="translate(393.8,76) rotate(-90)" font-size="21.5">1.5</text>
<text class="se" transform="translate(422.0,76.8) rotate(-90)" font-size="22.0">2</text>
</svg></body></html>
